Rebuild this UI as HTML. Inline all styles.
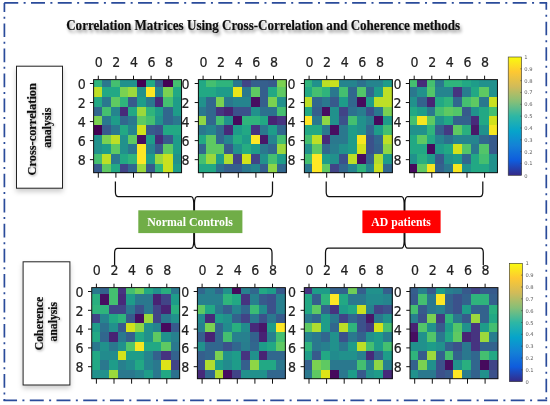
<!DOCTYPE html>
<html><head><meta charset="utf-8"><title>Correlation Matrices</title>
<style>
html,body{margin:0;padding:0;background:#fff}
body{width:550px;height:405px;overflow:hidden}
svg{display:block}
.title{font-family:"Liberation Serif",serif;font-weight:bold;font-size:13.4px;fill:#111;stroke:#111;stroke-width:0.15px}
.lb{font-family:"Liberation Serif",serif;font-weight:bold;font-size:12px;fill:#111;stroke:#111;stroke-width:0.15px}
.bx{font-family:"Liberation Serif",serif;font-weight:bold;font-size:11.8px;fill:#fff}
.tl{font-family:"DejaVu Sans Condensed","DejaVu Sans","Liberation Sans",sans-serif;font-stretch:condensed;font-size:14px;fill:#222;stroke:#222;stroke-width:0.2px}
.cb{font-family:"DejaVu Sans","Liberation Sans",sans-serif;font-size:5.2px;fill:#606060}
</style></head><body>
<svg width="550" height="405" viewBox="0 0 550 405">
<defs>
<linearGradient id="parula" x1="0" y1="1" x2="0" y2="0">
<stop offset="0.000" stop-color="#352a87"/>
<stop offset="0.125" stop-color="#0f5cdd"/>
<stop offset="0.250" stop-color="#1481d6"/>
<stop offset="0.375" stop-color="#06a4ca"/>
<stop offset="0.500" stop-color="#2eb7a4"/>
<stop offset="0.625" stop-color="#87bf77"/>
<stop offset="0.750" stop-color="#d1bb59"/>
<stop offset="0.875" stop-color="#fec832"/>
<stop offset="1.000" stop-color="#f9fb0e"/>
</linearGradient>
<filter id="ts" x="-10%" y="-50%" width="120%" height="250%"><feDropShadow dx="1.6" dy="2.5" stdDeviation="1.6" flood-color="#000" flood-opacity="0.42"/></filter>
<filter id="bs" x="-30%" y="-10%" width="160%" height="130%"><feDropShadow dx="0" dy="3" stdDeviation="2.6" flood-color="#000" flood-opacity="0.2"/></filter>
<filter id="ls" x="-50%" y="-50%" width="200%" height="200%"><feDropShadow dx="1" dy="1.2" stdDeviation="0.9" flood-color="#000" flood-opacity="0.3"/></filter>
</defs>
<rect width="550" height="405" fill="#fff"/>
<g fill="none" stroke="#2a4b9a" stroke-width="1.7">
<path d="M3.55 2.9H547.15" stroke-dasharray="14 5.38 2 5.38" stroke-dashoffset="-0.69"/>
<path d="M546.3 2.9V401.1" stroke-dasharray="13.6 4.95 2 4.95" stroke-dashoffset="6.7"/>
<path d="M3.55 400.3H547.15" stroke-dasharray="14 5.36 2 5.36" stroke-dashoffset="0.5"/>
<path d="M4.4 2.9V401.1" stroke-dasharray="13.6 4.72 2 4.72" stroke-dashoffset="4.44"/>
</g>
<text transform="translate(66.2 30) scale(1 1.06)" class="title" filter="url(#ts)" textLength="394" lengthAdjust="spacingAndGlyphs">Correlation Matrices Using Cross-Correlation and Coherence methods</text>

<rect x="16.5" y="66.2" width="46" height="122" fill="#fff" stroke="#222" stroke-width="1" filter="url(#bs)"/>
<g filter="url(#ls)"><text class="lb" transform="translate(36.4 129.3) rotate(-90) scale(1 1.08)" text-anchor="middle" textLength="92.4" lengthAdjust="spacingAndGlyphs">Cross-correlation</text>
<text class="lb" transform="translate(50.5 127.6) rotate(-90) scale(1 1.08)" text-anchor="middle" textLength="40.1" lengthAdjust="spacingAndGlyphs">analysis</text></g>
<rect x="23.1" y="261.8" width="46.8" height="123.2" fill="#fff" stroke="#222" stroke-width="1" filter="url(#bs)"/>
<g filter="url(#ls)"><text class="lb" transform="translate(43.1 323.5) rotate(-90) scale(1 1.08)" text-anchor="middle" textLength="53.7" lengthAdjust="spacingAndGlyphs">Coherence</text>
<text class="lb" transform="translate(57.1 321.7) rotate(-90) scale(1 1.08)" text-anchor="middle" textLength="39.4" lengthAdjust="spacingAndGlyphs">analysis</text></g>
<path d="M115.4 181.4V191.9Q115.4 196.5 118.4 196.5H190.95Q193.55 196.5 193.75 203.0V211M272.5 181.4V191.9Q272.5 196.5 269.5 196.5H197.25Q194.64999999999998 196.5 194.45 203.0V211M114.6 265V252.9Q114.6 248.3 117.6 248.3H190.95Q193.55 248.3 193.75 241.8V233M272.0 265V252.9Q272.0 248.3 269.0 248.3H197.25Q194.64999999999998 248.3 194.45 241.8V233M326.2 181.5V191.9Q326.2 196.5 329.2 196.5H401.34999999999997Q403.95 196.5 404.15 203.0V211M482.8 181.5V191.9Q482.8 196.5 479.8 196.5H407.65000000000003Q405.05 196.5 404.85 203.0V211M325.5 265V252.79999999999998Q325.5 248.2 328.5 248.2H401.34999999999997Q403.95 248.2 404.15 241.7V233M483.3 265V252.79999999999998Q483.3 248.2 480.3 248.2H407.65000000000003Q405.05 248.2 404.85 241.7V233" fill="none" stroke="#111" stroke-width="1.25" stroke-linecap="butt"/>
<rect x="138.3" y="210.3" width="104.1" height="22.8" fill="#70ad47"/>
<text class="bx" x="190" y="226.2" text-anchor="middle" textLength="85.6" lengthAdjust="spacingAndGlyphs">Normal Controls</text>
<rect x="362.4" y="210.4" width="78.2" height="22.7" fill="#ff0000"/>
<text class="bx" x="401.1" y="226.4" text-anchor="middle" textLength="59.6" lengthAdjust="spacingAndGlyphs">AD patients</text>
<g shape-rendering="crispEdges">
<rect x="93.60" y="79.60" width="8.25" height="7.50" fill="#2fb47c"/>
<rect x="101.55" y="79.60" width="9.50" height="7.50" fill="#2a788e"/>
<rect x="110.75" y="79.60" width="9.10" height="7.50" fill="#44bf70"/>
<rect x="119.55" y="79.60" width="8.85" height="7.50" fill="#21918c"/>
<rect x="128.10" y="79.60" width="9.20" height="7.50" fill="#21918c"/>
<rect x="137.00" y="79.60" width="9.25" height="7.50" fill="#440154"/>
<rect x="145.95" y="79.60" width="9.25" height="7.50" fill="#22a884"/>
<rect x="154.90" y="79.60" width="8.70" height="7.50" fill="#375a8c"/>
<rect x="163.30" y="79.60" width="9.60" height="7.50" fill="#440154"/>
<rect x="172.60" y="79.60" width="9.25" height="7.50" fill="#44bf70"/>
<rect x="93.60" y="86.80" width="8.25" height="10.70" fill="#bddf26"/>
<rect x="101.55" y="86.80" width="9.50" height="10.70" fill="#22a884"/>
<rect x="110.75" y="86.80" width="9.10" height="10.70" fill="#22a884"/>
<rect x="119.55" y="86.80" width="8.85" height="10.70" fill="#7ad151"/>
<rect x="128.10" y="86.80" width="9.20" height="10.70" fill="#9bd93c"/>
<rect x="137.00" y="86.80" width="9.25" height="10.70" fill="#21918c"/>
<rect x="145.95" y="86.80" width="9.25" height="10.70" fill="#fde725"/>
<rect x="154.90" y="86.80" width="8.70" height="10.70" fill="#25848e"/>
<rect x="163.30" y="86.80" width="9.60" height="10.70" fill="#7ad151"/>
<rect x="172.60" y="86.80" width="9.25" height="10.70" fill="#22a884"/>
<rect x="93.60" y="97.20" width="8.25" height="9.60" fill="#22a884"/>
<rect x="101.55" y="97.20" width="9.50" height="9.60" fill="#2a788e"/>
<rect x="110.75" y="97.20" width="9.10" height="9.60" fill="#5ec962"/>
<rect x="119.55" y="97.20" width="8.85" height="9.60" fill="#2fb47c"/>
<rect x="128.10" y="97.20" width="9.20" height="9.60" fill="#375a8c"/>
<rect x="137.00" y="97.20" width="9.25" height="9.60" fill="#1e9c89"/>
<rect x="145.95" y="97.20" width="9.25" height="9.60" fill="#2a788e"/>
<rect x="154.90" y="97.20" width="8.70" height="9.60" fill="#472a7a"/>
<rect x="163.30" y="97.20" width="9.60" height="9.60" fill="#44bf70"/>
<rect x="172.60" y="97.20" width="9.25" height="9.60" fill="#1e9c89"/>
<rect x="93.60" y="106.50" width="8.25" height="9.40" fill="#31678e"/>
<rect x="101.55" y="106.50" width="9.50" height="9.40" fill="#44bf70"/>
<rect x="110.75" y="106.50" width="9.10" height="9.40" fill="#25848e"/>
<rect x="119.55" y="106.50" width="8.85" height="9.40" fill="#472a7a"/>
<rect x="128.10" y="106.50" width="9.20" height="9.40" fill="#22a884"/>
<rect x="137.00" y="106.50" width="9.25" height="9.40" fill="#9bd93c"/>
<rect x="145.95" y="106.50" width="9.25" height="9.40" fill="#2fb47c"/>
<rect x="154.90" y="106.50" width="8.70" height="9.40" fill="#1e9c89"/>
<rect x="163.30" y="106.50" width="9.60" height="9.40" fill="#31678e"/>
<rect x="172.60" y="106.50" width="9.25" height="9.40" fill="#1e9c89"/>
<rect x="93.60" y="115.60" width="8.25" height="9.70" fill="#7ad151"/>
<rect x="101.55" y="115.60" width="9.50" height="9.70" fill="#2a788e"/>
<rect x="110.75" y="115.60" width="9.10" height="9.70" fill="#1e9c89"/>
<rect x="119.55" y="115.60" width="8.85" height="9.70" fill="#31678e"/>
<rect x="128.10" y="115.60" width="9.20" height="9.70" fill="#2a788e"/>
<rect x="137.00" y="115.60" width="9.25" height="9.70" fill="#5ec962"/>
<rect x="145.95" y="115.60" width="9.25" height="9.70" fill="#44bf70"/>
<rect x="154.90" y="115.60" width="8.70" height="9.70" fill="#21918c"/>
<rect x="163.30" y="115.60" width="9.60" height="9.70" fill="#31678e"/>
<rect x="172.60" y="115.60" width="9.25" height="9.70" fill="#2a788e"/>
<rect x="93.60" y="125.00" width="8.25" height="10.20" fill="#440154"/>
<rect x="101.55" y="125.00" width="9.50" height="10.20" fill="#375a8c"/>
<rect x="110.75" y="125.00" width="9.10" height="10.20" fill="#2a788e"/>
<rect x="119.55" y="125.00" width="8.85" height="10.20" fill="#22a884"/>
<rect x="128.10" y="125.00" width="9.20" height="10.20" fill="#25848e"/>
<rect x="137.00" y="125.00" width="9.25" height="10.20" fill="#d2e21b"/>
<rect x="145.95" y="125.00" width="9.25" height="10.20" fill="#375a8c"/>
<rect x="154.90" y="125.00" width="8.70" height="10.20" fill="#3b518b"/>
<rect x="163.30" y="125.00" width="9.60" height="10.20" fill="#22a884"/>
<rect x="172.60" y="125.00" width="9.25" height="10.20" fill="#22a884"/>
<rect x="93.60" y="134.90" width="8.25" height="9.50" fill="#21918c"/>
<rect x="101.55" y="134.90" width="9.50" height="9.50" fill="#7ad151"/>
<rect x="110.75" y="134.90" width="9.10" height="9.50" fill="#bddf26"/>
<rect x="119.55" y="134.90" width="8.85" height="9.50" fill="#21918c"/>
<rect x="128.10" y="134.90" width="9.20" height="9.50" fill="#5ec962"/>
<rect x="137.00" y="134.90" width="9.25" height="9.50" fill="#470e61"/>
<rect x="145.95" y="134.90" width="9.25" height="9.50" fill="#1e9c89"/>
<rect x="154.90" y="134.90" width="8.70" height="9.50" fill="#472a7a"/>
<rect x="163.30" y="134.90" width="9.60" height="9.50" fill="#375a8c"/>
<rect x="172.60" y="134.90" width="9.25" height="9.50" fill="#1e9c89"/>
<rect x="93.60" y="144.10" width="8.25" height="10.00" fill="#21918c"/>
<rect x="101.55" y="144.10" width="9.50" height="10.00" fill="#1e9c89"/>
<rect x="110.75" y="144.10" width="9.10" height="10.00" fill="#5ec962"/>
<rect x="119.55" y="144.10" width="8.85" height="10.00" fill="#21918c"/>
<rect x="128.10" y="144.10" width="9.20" height="10.00" fill="#2a788e"/>
<rect x="137.00" y="144.10" width="9.25" height="10.00" fill="#fde725"/>
<rect x="145.95" y="144.10" width="9.25" height="10.00" fill="#25848e"/>
<rect x="154.90" y="144.10" width="8.70" height="10.00" fill="#375a8c"/>
<rect x="163.30" y="144.10" width="9.60" height="10.00" fill="#5ec962"/>
<rect x="172.60" y="144.10" width="9.25" height="10.00" fill="#1e9c89"/>
<rect x="93.60" y="153.80" width="8.25" height="10.30" fill="#44bf70"/>
<rect x="101.55" y="153.80" width="9.50" height="10.30" fill="#bddf26"/>
<rect x="110.75" y="153.80" width="9.10" height="10.30" fill="#2a788e"/>
<rect x="119.55" y="153.80" width="8.85" height="10.30" fill="#22a884"/>
<rect x="128.10" y="153.80" width="9.20" height="10.30" fill="#2fb47c"/>
<rect x="137.00" y="153.80" width="9.25" height="10.30" fill="#fde725"/>
<rect x="145.95" y="153.80" width="9.25" height="10.30" fill="#1e9c89"/>
<rect x="154.90" y="153.80" width="8.70" height="10.30" fill="#9bd93c"/>
<rect x="163.30" y="153.80" width="9.60" height="10.30" fill="#cae11f"/>
<rect x="172.60" y="153.80" width="9.25" height="10.30" fill="#21918c"/>
<rect x="93.60" y="163.80" width="8.25" height="9.20" fill="#375a8c"/>
<rect x="101.55" y="163.80" width="9.50" height="9.20" fill="#5ec962"/>
<rect x="110.75" y="163.80" width="9.10" height="9.20" fill="#22a884"/>
<rect x="119.55" y="163.80" width="8.85" height="9.20" fill="#414487"/>
<rect x="128.10" y="163.80" width="9.20" height="9.20" fill="#31678e"/>
<rect x="137.00" y="163.80" width="9.25" height="9.20" fill="#9bd93c"/>
<rect x="145.95" y="163.80" width="9.25" height="9.20" fill="#375a8c"/>
<rect x="154.90" y="163.80" width="8.70" height="9.20" fill="#2fb47c"/>
<rect x="163.30" y="163.80" width="9.60" height="9.20" fill="#cae11f"/>
<rect x="172.60" y="163.80" width="9.25" height="9.20" fill="#1e9c89"/>
</g>
<rect x="93.60" y="79.60" width="87.95" height="93.10" fill="none" stroke="#111" stroke-width="1"/>
<text class="tl" x="98.70" y="67.30" text-anchor="middle">0</text>
<text class="tl" x="85.80" y="89.00" text-anchor="end">0</text>
<text class="tl" x="116.30" y="67.30" text-anchor="middle">2</text>
<text class="tl" x="85.80" y="108.04" text-anchor="end">2</text>
<text class="tl" x="133.90" y="67.30" text-anchor="middle">4</text>
<text class="tl" x="85.80" y="127.08" text-anchor="end">4</text>
<text class="tl" x="151.50" y="67.30" text-anchor="middle">6</text>
<text class="tl" x="85.80" y="146.12" text-anchor="end">6</text>
<text class="tl" x="169.10" y="67.30" text-anchor="middle">8</text>
<text class="tl" x="85.80" y="165.16" text-anchor="end">8</text>
<path d="M98.30 75.70V79.60M98.30 172.70V177.70M89.90 83.50H93.60M115.90 75.70V79.60M115.90 172.70V177.70M89.90 102.54H93.60M133.50 75.70V79.60M133.50 172.70V177.70M89.90 121.58H93.60M151.10 75.70V79.60M151.10 172.70V177.70M89.90 140.62H93.60M168.70 75.70V79.60M168.70 172.70V177.70M89.90 159.66H93.60" stroke="#111" stroke-width="1" fill="none"/>
<g shape-rendering="crispEdges">
<rect x="198.40" y="79.60" width="8.25" height="7.50" fill="#22a884"/>
<rect x="206.35" y="79.60" width="9.50" height="7.50" fill="#44bf70"/>
<rect x="215.55" y="79.60" width="9.10" height="7.50" fill="#2fb47c"/>
<rect x="224.35" y="79.60" width="8.85" height="7.50" fill="#2fb47c"/>
<rect x="232.90" y="79.60" width="9.20" height="7.50" fill="#2a788e"/>
<rect x="241.80" y="79.60" width="9.25" height="7.50" fill="#414487"/>
<rect x="250.75" y="79.60" width="9.25" height="7.50" fill="#355f8d"/>
<rect x="259.70" y="79.60" width="8.70" height="7.50" fill="#355f8d"/>
<rect x="268.10" y="79.60" width="9.60" height="7.50" fill="#375a8c"/>
<rect x="277.40" y="79.60" width="9.25" height="7.50" fill="#7ad151"/>
<rect x="198.40" y="86.80" width="8.25" height="10.70" fill="#22a884"/>
<rect x="206.35" y="86.80" width="9.50" height="10.70" fill="#22a884"/>
<rect x="215.55" y="86.80" width="9.10" height="10.70" fill="#1e9c89"/>
<rect x="224.35" y="86.80" width="8.85" height="10.70" fill="#1e9c89"/>
<rect x="232.90" y="86.80" width="9.20" height="10.70" fill="#eae51a"/>
<rect x="241.80" y="86.80" width="9.25" height="10.70" fill="#2a788e"/>
<rect x="250.75" y="86.80" width="9.25" height="10.70" fill="#5ec962"/>
<rect x="259.70" y="86.80" width="8.70" height="10.70" fill="#355f8d"/>
<rect x="268.10" y="86.80" width="9.60" height="10.70" fill="#22a884"/>
<rect x="277.40" y="86.80" width="9.25" height="10.70" fill="#5ec962"/>
<rect x="198.40" y="97.20" width="8.25" height="9.60" fill="#21918c"/>
<rect x="206.35" y="97.20" width="9.50" height="9.60" fill="#31678e"/>
<rect x="215.55" y="97.20" width="9.10" height="9.60" fill="#7ad151"/>
<rect x="224.35" y="97.20" width="8.85" height="9.60" fill="#2a788e"/>
<rect x="232.90" y="97.20" width="9.20" height="9.60" fill="#25848e"/>
<rect x="241.80" y="97.20" width="9.25" height="9.60" fill="#25848e"/>
<rect x="250.75" y="97.20" width="9.25" height="9.60" fill="#470e61"/>
<rect x="259.70" y="97.20" width="8.70" height="9.60" fill="#355f8d"/>
<rect x="268.10" y="97.20" width="9.60" height="9.60" fill="#7ad151"/>
<rect x="277.40" y="97.20" width="9.25" height="9.60" fill="#21918c"/>
<rect x="198.40" y="106.50" width="8.25" height="9.40" fill="#2a788e"/>
<rect x="206.35" y="106.50" width="9.50" height="9.40" fill="#31678e"/>
<rect x="215.55" y="106.50" width="9.10" height="9.40" fill="#463480"/>
<rect x="224.35" y="106.50" width="8.85" height="9.40" fill="#482374"/>
<rect x="232.90" y="106.50" width="9.20" height="9.40" fill="#3b518b"/>
<rect x="241.80" y="106.50" width="9.25" height="9.40" fill="#3b518b"/>
<rect x="250.75" y="106.50" width="9.25" height="9.40" fill="#21918c"/>
<rect x="259.70" y="106.50" width="8.70" height="9.40" fill="#2c718e"/>
<rect x="268.10" y="106.50" width="9.60" height="9.40" fill="#2c718e"/>
<rect x="277.40" y="106.50" width="9.25" height="9.40" fill="#44bf70"/>
<rect x="198.40" y="115.60" width="8.25" height="9.70" fill="#8ed645"/>
<rect x="206.35" y="115.60" width="9.50" height="9.70" fill="#31678e"/>
<rect x="215.55" y="115.60" width="9.10" height="9.70" fill="#44bf70"/>
<rect x="224.35" y="115.60" width="8.85" height="9.70" fill="#21918c"/>
<rect x="232.90" y="115.60" width="9.20" height="9.70" fill="#460a5d"/>
<rect x="241.80" y="115.60" width="9.25" height="9.70" fill="#2fb47c"/>
<rect x="250.75" y="115.60" width="9.25" height="9.70" fill="#2fb47c"/>
<rect x="259.70" y="115.60" width="8.70" height="9.70" fill="#22a884"/>
<rect x="268.10" y="115.60" width="9.60" height="9.70" fill="#482374"/>
<rect x="277.40" y="115.60" width="9.25" height="9.70" fill="#463480"/>
<rect x="198.40" y="125.00" width="8.25" height="10.20" fill="#2a788e"/>
<rect x="206.35" y="125.00" width="9.50" height="10.20" fill="#25848e"/>
<rect x="215.55" y="125.00" width="9.10" height="10.20" fill="#31678e"/>
<rect x="224.35" y="125.00" width="8.85" height="10.20" fill="#472a7a"/>
<rect x="232.90" y="125.00" width="9.20" height="10.20" fill="#1e9c89"/>
<rect x="241.80" y="125.00" width="9.25" height="10.20" fill="#22a884"/>
<rect x="250.75" y="125.00" width="9.25" height="10.20" fill="#463480"/>
<rect x="259.70" y="125.00" width="8.70" height="10.20" fill="#2a788e"/>
<rect x="268.10" y="125.00" width="9.60" height="10.20" fill="#1e9c89"/>
<rect x="277.40" y="125.00" width="9.25" height="10.20" fill="#31678e"/>
<rect x="198.40" y="134.90" width="8.25" height="9.50" fill="#22a884"/>
<rect x="206.35" y="134.90" width="9.50" height="9.50" fill="#5ec962"/>
<rect x="215.55" y="134.90" width="9.10" height="9.50" fill="#31678e"/>
<rect x="224.35" y="134.90" width="8.85" height="9.50" fill="#25848e"/>
<rect x="232.90" y="134.90" width="9.20" height="9.50" fill="#26ad81"/>
<rect x="241.80" y="134.90" width="9.25" height="9.50" fill="#1e9c89"/>
<rect x="250.75" y="134.90" width="9.25" height="9.50" fill="#fde725"/>
<rect x="259.70" y="134.90" width="8.70" height="9.50" fill="#481769"/>
<rect x="268.10" y="134.90" width="9.60" height="9.50" fill="#25848e"/>
<rect x="277.40" y="134.90" width="9.25" height="9.50" fill="#44bf70"/>
<rect x="198.40" y="144.10" width="8.25" height="10.00" fill="#31678e"/>
<rect x="206.35" y="144.10" width="9.50" height="10.00" fill="#5ec962"/>
<rect x="215.55" y="144.10" width="9.10" height="10.00" fill="#5ec962"/>
<rect x="224.35" y="144.10" width="8.85" height="10.00" fill="#375a8c"/>
<rect x="232.90" y="144.10" width="9.20" height="10.00" fill="#21918c"/>
<rect x="241.80" y="144.10" width="9.25" height="10.00" fill="#26ad81"/>
<rect x="250.75" y="144.10" width="9.25" height="10.00" fill="#1e9c89"/>
<rect x="259.70" y="144.10" width="8.70" height="10.00" fill="#2a788e"/>
<rect x="268.10" y="144.10" width="9.60" height="10.00" fill="#31678e"/>
<rect x="277.40" y="144.10" width="9.25" height="10.00" fill="#9bd93c"/>
<rect x="198.40" y="153.80" width="8.25" height="10.30" fill="#44bf70"/>
<rect x="206.35" y="153.80" width="9.50" height="10.30" fill="#9bd93c"/>
<rect x="215.55" y="153.80" width="9.10" height="10.30" fill="#1e9c89"/>
<rect x="224.35" y="153.80" width="8.85" height="10.30" fill="#b0dd2f"/>
<rect x="232.90" y="153.80" width="9.20" height="10.30" fill="#414487"/>
<rect x="241.80" y="153.80" width="9.25" height="10.30" fill="#d2e21b"/>
<rect x="250.75" y="153.80" width="9.25" height="10.30" fill="#414487"/>
<rect x="259.70" y="153.80" width="8.70" height="10.30" fill="#21918c"/>
<rect x="268.10" y="153.80" width="9.60" height="10.30" fill="#44bf70"/>
<rect x="277.40" y="153.80" width="9.25" height="10.30" fill="#1e9c89"/>
<rect x="198.40" y="163.80" width="8.25" height="9.20" fill="#22a884"/>
<rect x="206.35" y="163.80" width="9.50" height="9.20" fill="#22a884"/>
<rect x="215.55" y="163.80" width="9.10" height="9.20" fill="#2c718e"/>
<rect x="224.35" y="163.80" width="8.85" height="9.20" fill="#355f8d"/>
<rect x="232.90" y="163.80" width="9.20" height="9.20" fill="#355f8d"/>
<rect x="241.80" y="163.80" width="9.25" height="9.20" fill="#2a788e"/>
<rect x="250.75" y="163.80" width="9.25" height="9.20" fill="#25848e"/>
<rect x="259.70" y="163.80" width="8.70" height="9.20" fill="#355f8d"/>
<rect x="268.10" y="163.80" width="9.60" height="9.20" fill="#8ed645"/>
<rect x="277.40" y="163.80" width="9.25" height="9.20" fill="#31678e"/>
</g>
<rect x="198.40" y="79.60" width="87.95" height="93.10" fill="none" stroke="#111" stroke-width="1"/>
<text class="tl" x="203.50" y="67.30" text-anchor="middle">0</text>
<text class="tl" x="189.60" y="89.00" text-anchor="end">0</text>
<text class="tl" x="221.10" y="67.30" text-anchor="middle">2</text>
<text class="tl" x="189.60" y="108.04" text-anchor="end">2</text>
<text class="tl" x="238.70" y="67.30" text-anchor="middle">4</text>
<text class="tl" x="189.60" y="127.08" text-anchor="end">4</text>
<text class="tl" x="256.30" y="67.30" text-anchor="middle">6</text>
<text class="tl" x="189.60" y="146.12" text-anchor="end">6</text>
<text class="tl" x="273.90" y="67.30" text-anchor="middle">8</text>
<text class="tl" x="189.60" y="165.16" text-anchor="end">8</text>
<path d="M203.10 75.70V79.60M203.10 172.70V177.70M194.70 83.50H198.40M220.70 75.70V79.60M220.70 172.70V177.70M194.70 102.54H198.40M238.30 75.70V79.60M238.30 172.70V177.70M194.70 121.58H198.40M255.90 75.70V79.60M255.90 172.70V177.70M194.70 140.62H198.40M273.50 75.70V79.60M273.50 172.70V177.70M194.70 159.66H198.40" stroke="#111" stroke-width="1" fill="none"/>
<g shape-rendering="crispEdges">
<rect x="304.40" y="79.60" width="8.25" height="7.50" fill="#2fb47c"/>
<rect x="312.35" y="79.60" width="9.50" height="7.50" fill="#21918c"/>
<rect x="321.55" y="79.60" width="9.10" height="7.50" fill="#bddf26"/>
<rect x="330.35" y="79.60" width="8.85" height="7.50" fill="#cae11f"/>
<rect x="338.90" y="79.60" width="9.20" height="7.50" fill="#25848e"/>
<rect x="347.80" y="79.60" width="9.25" height="7.50" fill="#25848e"/>
<rect x="356.75" y="79.60" width="9.25" height="7.50" fill="#2c718e"/>
<rect x="365.70" y="79.60" width="8.70" height="7.50" fill="#25848e"/>
<rect x="374.10" y="79.60" width="9.60" height="7.50" fill="#25848e"/>
<rect x="383.40" y="79.60" width="9.25" height="7.50" fill="#1e9c89"/>
<rect x="304.40" y="86.80" width="8.25" height="10.70" fill="#22a884"/>
<rect x="312.35" y="86.80" width="9.50" height="10.70" fill="#44bf70"/>
<rect x="321.55" y="86.80" width="9.10" height="10.70" fill="#2fb47c"/>
<rect x="330.35" y="86.80" width="8.85" height="10.70" fill="#2a788e"/>
<rect x="338.90" y="86.80" width="9.20" height="10.70" fill="#44bf70"/>
<rect x="347.80" y="86.80" width="9.25" height="10.70" fill="#31678e"/>
<rect x="356.75" y="86.80" width="9.25" height="10.70" fill="#52c569"/>
<rect x="365.70" y="86.80" width="8.70" height="10.70" fill="#31678e"/>
<rect x="374.10" y="86.80" width="9.60" height="10.70" fill="#1e9c89"/>
<rect x="383.40" y="86.80" width="9.25" height="10.70" fill="#bddf26"/>
<rect x="304.40" y="97.20" width="8.25" height="9.60" fill="#bddf26"/>
<rect x="312.35" y="97.20" width="9.50" height="9.60" fill="#31678e"/>
<rect x="321.55" y="97.20" width="9.10" height="9.60" fill="#2a788e"/>
<rect x="330.35" y="97.20" width="8.85" height="9.60" fill="#375a8c"/>
<rect x="338.90" y="97.20" width="9.20" height="9.60" fill="#1e9c89"/>
<rect x="347.80" y="97.20" width="9.25" height="9.60" fill="#31678e"/>
<rect x="356.75" y="97.20" width="9.25" height="9.60" fill="#460a5d"/>
<rect x="365.70" y="97.20" width="8.70" height="9.60" fill="#1e9c89"/>
<rect x="374.10" y="97.20" width="9.60" height="9.60" fill="#bddf26"/>
<rect x="383.40" y="97.20" width="9.25" height="9.60" fill="#bddf26"/>
<rect x="304.40" y="106.50" width="8.25" height="9.40" fill="#22a884"/>
<rect x="312.35" y="106.50" width="9.50" height="9.40" fill="#355f8d"/>
<rect x="321.55" y="106.50" width="9.10" height="9.40" fill="#470e61"/>
<rect x="330.35" y="106.50" width="8.85" height="9.40" fill="#21918c"/>
<rect x="338.90" y="106.50" width="9.20" height="9.40" fill="#414487"/>
<rect x="347.80" y="106.50" width="9.25" height="9.40" fill="#2c718e"/>
<rect x="356.75" y="106.50" width="9.25" height="9.40" fill="#287d8e"/>
<rect x="365.70" y="106.50" width="8.70" height="9.40" fill="#3b518b"/>
<rect x="374.10" y="106.50" width="9.60" height="9.40" fill="#2a788e"/>
<rect x="383.40" y="106.50" width="9.25" height="9.40" fill="#7ad151"/>
<rect x="304.40" y="115.60" width="8.25" height="9.70" fill="#fde725"/>
<rect x="312.35" y="115.60" width="9.50" height="9.70" fill="#2a788e"/>
<rect x="321.55" y="115.60" width="9.10" height="9.70" fill="#8ed645"/>
<rect x="330.35" y="115.60" width="8.85" height="9.70" fill="#21918c"/>
<rect x="338.90" y="115.60" width="9.20" height="9.70" fill="#3b518b"/>
<rect x="347.80" y="115.60" width="9.25" height="9.70" fill="#44bf70"/>
<rect x="356.75" y="115.60" width="9.25" height="9.70" fill="#21918c"/>
<rect x="365.70" y="115.60" width="8.70" height="9.70" fill="#287d8e"/>
<rect x="374.10" y="115.60" width="9.60" height="9.70" fill="#460a5d"/>
<rect x="383.40" y="115.60" width="9.25" height="9.70" fill="#1e9c89"/>
<rect x="304.40" y="125.00" width="8.25" height="10.20" fill="#22a884"/>
<rect x="312.35" y="125.00" width="9.50" height="10.20" fill="#22a884"/>
<rect x="321.55" y="125.00" width="9.10" height="10.20" fill="#2a788e"/>
<rect x="330.35" y="125.00" width="8.85" height="10.20" fill="#470e61"/>
<rect x="338.90" y="125.00" width="9.20" height="10.20" fill="#2a788e"/>
<rect x="347.80" y="125.00" width="9.25" height="10.20" fill="#1e9c89"/>
<rect x="356.75" y="125.00" width="9.25" height="10.20" fill="#21918c"/>
<rect x="365.70" y="125.00" width="8.70" height="10.20" fill="#31678e"/>
<rect x="374.10" y="125.00" width="9.60" height="10.20" fill="#1e9c89"/>
<rect x="383.40" y="125.00" width="9.25" height="10.20" fill="#44bf70"/>
<rect x="304.40" y="134.90" width="8.25" height="9.50" fill="#44bf70"/>
<rect x="312.35" y="134.90" width="9.50" height="9.50" fill="#bddf26"/>
<rect x="321.55" y="134.90" width="9.10" height="9.50" fill="#472a7a"/>
<rect x="330.35" y="134.90" width="8.85" height="9.50" fill="#2a788e"/>
<rect x="338.90" y="134.90" width="9.20" height="9.50" fill="#2a788e"/>
<rect x="347.80" y="134.90" width="9.25" height="9.50" fill="#1e9c89"/>
<rect x="356.75" y="134.90" width="9.25" height="9.50" fill="#f6e620"/>
<rect x="365.70" y="134.90" width="8.70" height="9.50" fill="#3b518b"/>
<rect x="374.10" y="134.90" width="9.60" height="9.50" fill="#31678e"/>
<rect x="383.40" y="134.90" width="9.25" height="9.50" fill="#bddf26"/>
<rect x="304.40" y="144.10" width="8.25" height="10.00" fill="#21918c"/>
<rect x="312.35" y="144.10" width="9.50" height="10.00" fill="#5ec962"/>
<rect x="321.55" y="144.10" width="9.10" height="10.00" fill="#31678e"/>
<rect x="330.35" y="144.10" width="8.85" height="10.00" fill="#287d8e"/>
<rect x="338.90" y="144.10" width="9.20" height="10.00" fill="#21918c"/>
<rect x="347.80" y="144.10" width="9.25" height="10.00" fill="#1e9c89"/>
<rect x="356.75" y="144.10" width="9.25" height="10.00" fill="#d2e21b"/>
<rect x="365.70" y="144.10" width="8.70" height="10.00" fill="#3b518b"/>
<rect x="374.10" y="144.10" width="9.60" height="10.00" fill="#33628d"/>
<rect x="383.40" y="144.10" width="9.25" height="10.00" fill="#8ed645"/>
<rect x="304.40" y="153.80" width="8.25" height="10.30" fill="#44bf70"/>
<rect x="312.35" y="153.80" width="9.50" height="10.30" fill="#fde725"/>
<rect x="321.55" y="153.80" width="9.10" height="10.30" fill="#1e9c89"/>
<rect x="330.35" y="153.80" width="8.85" height="10.30" fill="#21918c"/>
<rect x="338.90" y="153.80" width="9.20" height="10.30" fill="#3b518b"/>
<rect x="347.80" y="153.80" width="9.25" height="10.30" fill="#bddf26"/>
<rect x="356.75" y="153.80" width="9.25" height="10.30" fill="#470e61"/>
<rect x="365.70" y="153.80" width="8.70" height="10.30" fill="#33628d"/>
<rect x="374.10" y="153.80" width="9.60" height="10.30" fill="#b0dd2f"/>
<rect x="383.40" y="153.80" width="9.25" height="10.30" fill="#1e9c89"/>
<rect x="304.40" y="163.80" width="8.25" height="9.20" fill="#2a788e"/>
<rect x="312.35" y="163.80" width="9.50" height="9.20" fill="#fde725"/>
<rect x="321.55" y="163.80" width="9.10" height="9.20" fill="#5ec962"/>
<rect x="330.35" y="163.80" width="8.85" height="9.20" fill="#414487"/>
<rect x="338.90" y="163.80" width="9.20" height="9.20" fill="#31678e"/>
<rect x="347.80" y="163.80" width="9.25" height="9.20" fill="#25848e"/>
<rect x="356.75" y="163.80" width="9.25" height="9.20" fill="#2fb47c"/>
<rect x="365.70" y="163.80" width="8.70" height="9.20" fill="#25848e"/>
<rect x="374.10" y="163.80" width="9.60" height="9.20" fill="#cae11f"/>
<rect x="383.40" y="163.80" width="9.25" height="9.20" fill="#31678e"/>
</g>
<rect x="304.40" y="79.60" width="87.95" height="93.10" fill="none" stroke="#111" stroke-width="1"/>
<text class="tl" x="309.50" y="67.30" text-anchor="middle">0</text>
<text class="tl" x="295.60" y="89.00" text-anchor="end">0</text>
<text class="tl" x="327.10" y="67.30" text-anchor="middle">2</text>
<text class="tl" x="295.60" y="108.04" text-anchor="end">2</text>
<text class="tl" x="344.70" y="67.30" text-anchor="middle">4</text>
<text class="tl" x="295.60" y="127.08" text-anchor="end">4</text>
<text class="tl" x="362.30" y="67.30" text-anchor="middle">6</text>
<text class="tl" x="295.60" y="146.12" text-anchor="end">6</text>
<text class="tl" x="379.90" y="67.30" text-anchor="middle">8</text>
<text class="tl" x="295.60" y="165.16" text-anchor="end">8</text>
<path d="M309.10 75.70V79.60M309.10 172.70V177.70M300.70 83.50H304.40M326.70 75.70V79.60M326.70 172.70V177.70M300.70 102.54H304.40M344.30 75.70V79.60M344.30 172.70V177.70M300.70 121.58H304.40M361.90 75.70V79.60M361.90 172.70V177.70M300.70 140.62H304.40M379.50 75.70V79.60M379.50 172.70V177.70M300.70 159.66H304.40" stroke="#111" stroke-width="1" fill="none"/>
<g shape-rendering="crispEdges">
<rect x="409.50" y="79.60" width="8.25" height="7.50" fill="#44bf70"/>
<rect x="417.45" y="79.60" width="9.50" height="7.50" fill="#472a7a"/>
<rect x="426.65" y="79.60" width="9.10" height="7.50" fill="#44bf70"/>
<rect x="435.45" y="79.60" width="8.85" height="7.50" fill="#2a788e"/>
<rect x="444.00" y="79.60" width="9.20" height="7.50" fill="#2fb47c"/>
<rect x="452.90" y="79.60" width="9.25" height="7.50" fill="#2fb47c"/>
<rect x="461.85" y="79.60" width="9.25" height="7.50" fill="#22a884"/>
<rect x="470.80" y="79.60" width="8.70" height="7.50" fill="#1e9c89"/>
<rect x="479.20" y="79.60" width="9.60" height="7.50" fill="#21918c"/>
<rect x="488.50" y="79.60" width="9.25" height="7.50" fill="#21918c"/>
<rect x="409.50" y="86.80" width="8.25" height="10.70" fill="#2a788e"/>
<rect x="417.45" y="86.80" width="9.50" height="10.70" fill="#21918c"/>
<rect x="426.65" y="86.80" width="9.10" height="10.70" fill="#52c569"/>
<rect x="435.45" y="86.80" width="8.85" height="10.70" fill="#25848e"/>
<rect x="444.00" y="86.80" width="9.20" height="10.70" fill="#25848e"/>
<rect x="452.90" y="86.80" width="9.25" height="10.70" fill="#463480"/>
<rect x="461.85" y="86.80" width="9.25" height="10.70" fill="#287d8e"/>
<rect x="470.80" y="86.80" width="8.70" height="10.70" fill="#22a884"/>
<rect x="479.20" y="86.80" width="9.60" height="10.70" fill="#5ec962"/>
<rect x="488.50" y="86.80" width="9.25" height="10.70" fill="#21918c"/>
<rect x="409.50" y="97.20" width="8.25" height="9.60" fill="#21918c"/>
<rect x="417.45" y="97.20" width="9.50" height="9.60" fill="#33628d"/>
<rect x="426.65" y="97.20" width="9.10" height="9.60" fill="#482374"/>
<rect x="435.45" y="97.20" width="8.85" height="9.60" fill="#22a884"/>
<rect x="444.00" y="97.20" width="9.20" height="9.60" fill="#2fb47c"/>
<rect x="452.90" y="97.20" width="9.25" height="9.60" fill="#31678e"/>
<rect x="461.85" y="97.20" width="9.25" height="9.60" fill="#44bf70"/>
<rect x="470.80" y="97.20" width="8.70" height="9.60" fill="#5ec962"/>
<rect x="479.20" y="97.20" width="9.60" height="9.60" fill="#2a788e"/>
<rect x="488.50" y="97.20" width="9.25" height="9.60" fill="#cae11f"/>
<rect x="409.50" y="106.50" width="8.25" height="9.40" fill="#22a884"/>
<rect x="417.45" y="106.50" width="9.50" height="9.40" fill="#1e9c89"/>
<rect x="426.65" y="106.50" width="9.10" height="9.40" fill="#2a788e"/>
<rect x="435.45" y="106.50" width="8.85" height="9.40" fill="#44bf70"/>
<rect x="444.00" y="106.50" width="9.20" height="9.40" fill="#5ec962"/>
<rect x="452.90" y="106.50" width="9.25" height="9.40" fill="#52c569"/>
<rect x="461.85" y="106.50" width="9.25" height="9.40" fill="#375a8c"/>
<rect x="470.80" y="106.50" width="8.70" height="9.40" fill="#21918c"/>
<rect x="479.20" y="106.50" width="9.60" height="9.40" fill="#22a884"/>
<rect x="488.50" y="106.50" width="9.25" height="9.40" fill="#44bf70"/>
<rect x="409.50" y="115.60" width="8.25" height="9.70" fill="#44bf70"/>
<rect x="417.45" y="115.60" width="9.50" height="9.70" fill="#f6e620"/>
<rect x="426.65" y="115.60" width="9.10" height="9.70" fill="#5ec962"/>
<rect x="435.45" y="115.60" width="8.85" height="9.70" fill="#21918c"/>
<rect x="444.00" y="115.60" width="9.20" height="9.70" fill="#22a884"/>
<rect x="452.90" y="115.60" width="9.25" height="9.70" fill="#33628d"/>
<rect x="461.85" y="115.60" width="9.25" height="9.70" fill="#33628d"/>
<rect x="470.80" y="115.60" width="8.70" height="9.70" fill="#472a7a"/>
<rect x="479.20" y="115.60" width="9.60" height="9.70" fill="#22a884"/>
<rect x="488.50" y="115.60" width="9.25" height="9.70" fill="#d2e21b"/>
<rect x="409.50" y="125.00" width="8.25" height="10.20" fill="#21918c"/>
<rect x="417.45" y="125.00" width="9.50" height="10.20" fill="#21918c"/>
<rect x="426.65" y="125.00" width="9.10" height="10.20" fill="#2fb47c"/>
<rect x="435.45" y="125.00" width="8.85" height="10.20" fill="#355f8d"/>
<rect x="444.00" y="125.00" width="9.20" height="10.20" fill="#443a83"/>
<rect x="452.90" y="125.00" width="9.25" height="10.20" fill="#5ec962"/>
<rect x="461.85" y="125.00" width="9.25" height="10.20" fill="#29af7f"/>
<rect x="470.80" y="125.00" width="8.70" height="10.20" fill="#481769"/>
<rect x="479.20" y="125.00" width="9.60" height="10.20" fill="#21918c"/>
<rect x="488.50" y="125.00" width="9.25" height="10.20" fill="#f6e620"/>
<rect x="409.50" y="134.90" width="8.25" height="9.50" fill="#22a884"/>
<rect x="417.45" y="134.90" width="9.50" height="9.50" fill="#5ec962"/>
<rect x="426.65" y="134.90" width="9.10" height="9.50" fill="#22a884"/>
<rect x="435.45" y="134.90" width="8.85" height="9.50" fill="#25848e"/>
<rect x="444.00" y="134.90" width="9.20" height="9.50" fill="#2c718e"/>
<rect x="452.90" y="134.90" width="9.25" height="9.50" fill="#25848e"/>
<rect x="461.85" y="134.90" width="9.25" height="9.50" fill="#25848e"/>
<rect x="470.80" y="134.90" width="8.70" height="9.50" fill="#25848e"/>
<rect x="479.20" y="134.90" width="9.60" height="9.50" fill="#31678e"/>
<rect x="488.50" y="134.90" width="9.25" height="9.50" fill="#375a8c"/>
<rect x="409.50" y="144.10" width="8.25" height="10.00" fill="#22a884"/>
<rect x="417.45" y="144.10" width="9.50" height="10.00" fill="#22a884"/>
<rect x="426.65" y="144.10" width="9.10" height="10.00" fill="#460a5d"/>
<rect x="435.45" y="144.10" width="8.85" height="10.00" fill="#1e9c89"/>
<rect x="444.00" y="144.10" width="9.20" height="10.00" fill="#22a884"/>
<rect x="452.90" y="144.10" width="9.25" height="10.00" fill="#d2e21b"/>
<rect x="461.85" y="144.10" width="9.25" height="10.00" fill="#52c569"/>
<rect x="470.80" y="144.10" width="8.70" height="10.00" fill="#2a788e"/>
<rect x="479.20" y="144.10" width="9.60" height="10.00" fill="#52c569"/>
<rect x="488.50" y="144.10" width="9.25" height="10.00" fill="#375a8c"/>
<rect x="409.50" y="153.80" width="8.25" height="10.30" fill="#21918c"/>
<rect x="417.45" y="153.80" width="9.50" height="10.30" fill="#29af7f"/>
<rect x="426.65" y="153.80" width="9.10" height="10.30" fill="#1e9c89"/>
<rect x="435.45" y="153.80" width="8.85" height="10.30" fill="#375a8c"/>
<rect x="444.00" y="153.80" width="9.20" height="10.30" fill="#21918c"/>
<rect x="452.90" y="153.80" width="9.25" height="10.30" fill="#1e9c89"/>
<rect x="461.85" y="153.80" width="9.25" height="10.30" fill="#31678e"/>
<rect x="470.80" y="153.80" width="8.70" height="10.30" fill="#22a884"/>
<rect x="479.20" y="153.80" width="9.60" height="10.30" fill="#44bf70"/>
<rect x="488.50" y="153.80" width="9.25" height="10.30" fill="#21918c"/>
<rect x="409.50" y="163.80" width="8.25" height="9.20" fill="#460a5d"/>
<rect x="417.45" y="163.80" width="9.50" height="9.20" fill="#5ec962"/>
<rect x="426.65" y="163.80" width="9.10" height="9.20" fill="#f6e620"/>
<rect x="435.45" y="163.80" width="8.85" height="9.20" fill="#33628d"/>
<rect x="444.00" y="163.80" width="9.20" height="9.20" fill="#2a788e"/>
<rect x="452.90" y="163.80" width="9.25" height="9.20" fill="#f6e620"/>
<rect x="461.85" y="163.80" width="9.25" height="9.20" fill="#21918c"/>
<rect x="470.80" y="163.80" width="8.70" height="9.20" fill="#22a884"/>
<rect x="479.20" y="163.80" width="9.60" height="9.20" fill="#22a884"/>
<rect x="488.50" y="163.80" width="9.25" height="9.20" fill="#21918c"/>
</g>
<rect x="409.50" y="79.60" width="87.95" height="93.10" fill="none" stroke="#111" stroke-width="1"/>
<text class="tl" x="414.60" y="67.30" text-anchor="middle">0</text>
<text class="tl" x="401.50" y="89.00" text-anchor="end">0</text>
<text class="tl" x="432.20" y="67.30" text-anchor="middle">2</text>
<text class="tl" x="401.50" y="108.04" text-anchor="end">2</text>
<text class="tl" x="449.80" y="67.30" text-anchor="middle">4</text>
<text class="tl" x="401.50" y="127.08" text-anchor="end">4</text>
<text class="tl" x="467.40" y="67.30" text-anchor="middle">6</text>
<text class="tl" x="401.50" y="146.12" text-anchor="end">6</text>
<text class="tl" x="485.00" y="67.30" text-anchor="middle">8</text>
<text class="tl" x="401.50" y="165.16" text-anchor="end">8</text>
<path d="M414.20 75.70V79.60M414.20 172.70V177.70M405.80 83.50H409.50M431.80 75.70V79.60M431.80 172.70V177.70M405.80 102.54H409.50M449.40 75.70V79.60M449.40 172.70V177.70M405.80 121.58H409.50M467.00 75.70V79.60M467.00 172.70V177.70M405.80 140.62H409.50M484.60 75.70V79.60M484.60 172.70V177.70M405.80 159.66H409.50" stroke="#111" stroke-width="1" fill="none"/>
<g shape-rendering="crispEdges">
<rect x="91.70" y="287.60" width="8.25" height="7.10" fill="#2a788e"/>
<rect x="99.65" y="287.60" width="9.50" height="7.10" fill="#33628d"/>
<rect x="108.85" y="287.60" width="9.10" height="7.10" fill="#44bf70"/>
<rect x="117.65" y="287.60" width="8.85" height="7.10" fill="#463480"/>
<rect x="126.20" y="287.60" width="9.20" height="7.10" fill="#44bf70"/>
<rect x="135.10" y="287.60" width="9.25" height="7.10" fill="#6ece58"/>
<rect x="144.05" y="287.60" width="9.25" height="7.10" fill="#22a884"/>
<rect x="153.00" y="287.60" width="8.70" height="7.10" fill="#21918c"/>
<rect x="161.40" y="287.60" width="9.60" height="7.10" fill="#29af7f"/>
<rect x="170.70" y="287.60" width="9.25" height="7.10" fill="#2a788e"/>
<rect x="91.70" y="294.40" width="8.25" height="10.80" fill="#29af7f"/>
<rect x="99.65" y="294.40" width="9.50" height="10.80" fill="#470e61"/>
<rect x="108.85" y="294.40" width="9.10" height="10.80" fill="#44bf70"/>
<rect x="117.65" y="294.40" width="8.85" height="10.80" fill="#472a7a"/>
<rect x="126.20" y="294.40" width="9.20" height="10.80" fill="#1e9c89"/>
<rect x="135.10" y="294.40" width="9.25" height="10.80" fill="#2a788e"/>
<rect x="144.05" y="294.40" width="9.25" height="10.80" fill="#2a788e"/>
<rect x="153.00" y="294.40" width="8.70" height="10.80" fill="#482374"/>
<rect x="161.40" y="294.40" width="9.60" height="10.80" fill="#414487"/>
<rect x="170.70" y="294.40" width="9.25" height="10.80" fill="#1e9c89"/>
<rect x="91.70" y="304.90" width="8.25" height="9.50" fill="#2fb47c"/>
<rect x="99.65" y="304.90" width="9.50" height="9.50" fill="#2fb47c"/>
<rect x="108.85" y="304.90" width="9.10" height="9.50" fill="#414487"/>
<rect x="117.65" y="304.90" width="8.85" height="9.50" fill="#414487"/>
<rect x="126.20" y="304.90" width="9.20" height="9.50" fill="#2a788e"/>
<rect x="135.10" y="304.90" width="9.25" height="9.50" fill="#3b518b"/>
<rect x="144.05" y="304.90" width="9.25" height="9.50" fill="#2a788e"/>
<rect x="153.00" y="304.90" width="8.70" height="9.50" fill="#414487"/>
<rect x="161.40" y="304.90" width="9.60" height="9.50" fill="#482374"/>
<rect x="170.70" y="304.90" width="9.25" height="9.50" fill="#29af7f"/>
<rect x="91.70" y="314.10" width="8.25" height="9.00" fill="#414487"/>
<rect x="99.65" y="314.10" width="9.50" height="9.00" fill="#25848e"/>
<rect x="108.85" y="314.10" width="9.10" height="9.00" fill="#22a884"/>
<rect x="117.65" y="314.10" width="8.85" height="9.00" fill="#2fb47c"/>
<rect x="126.20" y="314.10" width="9.20" height="9.00" fill="#375a8c"/>
<rect x="135.10" y="314.10" width="9.25" height="9.00" fill="#470e61"/>
<rect x="144.05" y="314.10" width="9.25" height="9.00" fill="#9bd93c"/>
<rect x="153.00" y="314.10" width="8.70" height="9.00" fill="#414487"/>
<rect x="161.40" y="314.10" width="9.60" height="9.00" fill="#2a788e"/>
<rect x="170.70" y="314.10" width="9.25" height="9.00" fill="#21918c"/>
<rect x="91.70" y="322.80" width="8.25" height="9.50" fill="#1e9c89"/>
<rect x="99.65" y="322.80" width="9.50" height="9.50" fill="#2c718e"/>
<rect x="108.85" y="322.80" width="9.10" height="9.50" fill="#21918c"/>
<rect x="117.65" y="322.80" width="8.85" height="9.50" fill="#375a8c"/>
<rect x="126.20" y="322.80" width="9.20" height="9.50" fill="#d2e21b"/>
<rect x="135.10" y="322.80" width="9.25" height="9.50" fill="#8ed645"/>
<rect x="144.05" y="322.80" width="9.25" height="9.50" fill="#21918c"/>
<rect x="153.00" y="322.80" width="8.70" height="9.50" fill="#25848e"/>
<rect x="161.40" y="322.80" width="9.60" height="9.50" fill="#460a5d"/>
<rect x="170.70" y="322.80" width="9.25" height="9.50" fill="#375a8c"/>
<rect x="91.70" y="332.00" width="8.25" height="10.30" fill="#22a884"/>
<rect x="99.65" y="332.00" width="9.50" height="10.30" fill="#31678e"/>
<rect x="108.85" y="332.00" width="9.10" height="10.30" fill="#482374"/>
<rect x="117.65" y="332.00" width="8.85" height="10.30" fill="#2a788e"/>
<rect x="126.20" y="332.00" width="9.20" height="10.30" fill="#355f8d"/>
<rect x="135.10" y="332.00" width="9.25" height="10.30" fill="#22a884"/>
<rect x="144.05" y="332.00" width="9.25" height="10.30" fill="#21918c"/>
<rect x="153.00" y="332.00" width="8.70" height="10.30" fill="#5ec962"/>
<rect x="161.40" y="332.00" width="9.60" height="10.30" fill="#21918c"/>
<rect x="170.70" y="332.00" width="9.25" height="10.30" fill="#27808e"/>
<rect x="91.70" y="342.00" width="8.25" height="9.70" fill="#2a788e"/>
<rect x="99.65" y="342.00" width="9.50" height="9.70" fill="#21918c"/>
<rect x="108.85" y="342.00" width="9.10" height="9.70" fill="#2a788e"/>
<rect x="117.65" y="342.00" width="8.85" height="9.70" fill="#21918c"/>
<rect x="126.20" y="342.00" width="9.20" height="9.70" fill="#52c569"/>
<rect x="135.10" y="342.00" width="9.25" height="9.70" fill="#f6e620"/>
<rect x="144.05" y="342.00" width="9.25" height="9.70" fill="#22a884"/>
<rect x="153.00" y="342.00" width="8.70" height="9.70" fill="#22a884"/>
<rect x="161.40" y="342.00" width="9.60" height="9.70" fill="#5ec962"/>
<rect x="170.70" y="342.00" width="9.25" height="9.70" fill="#2a788e"/>
<rect x="91.70" y="351.40" width="8.25" height="9.00" fill="#22a884"/>
<rect x="99.65" y="351.40" width="9.50" height="9.00" fill="#228b8d"/>
<rect x="108.85" y="351.40" width="9.10" height="9.00" fill="#228b8d"/>
<rect x="117.65" y="351.40" width="8.85" height="9.00" fill="#d2e21b"/>
<rect x="126.20" y="351.40" width="9.20" height="9.00" fill="#1e9c89"/>
<rect x="135.10" y="351.40" width="9.25" height="9.00" fill="#1e9c89"/>
<rect x="144.05" y="351.40" width="9.25" height="9.00" fill="#25848e"/>
<rect x="153.00" y="351.40" width="8.70" height="9.00" fill="#33628d"/>
<rect x="161.40" y="351.40" width="9.60" height="9.00" fill="#463480"/>
<rect x="170.70" y="351.40" width="9.25" height="9.00" fill="#33628d"/>
<rect x="91.70" y="360.10" width="8.25" height="10.30" fill="#22a884"/>
<rect x="99.65" y="360.10" width="9.50" height="10.30" fill="#2a788e"/>
<rect x="108.85" y="360.10" width="9.10" height="10.30" fill="#1e9c89"/>
<rect x="117.65" y="360.10" width="8.85" height="10.30" fill="#27808e"/>
<rect x="126.20" y="360.10" width="9.20" height="10.30" fill="#228b8d"/>
<rect x="135.10" y="360.10" width="9.25" height="10.30" fill="#22a884"/>
<rect x="144.05" y="360.10" width="9.25" height="10.30" fill="#25848e"/>
<rect x="153.00" y="360.10" width="8.70" height="10.30" fill="#2a788e"/>
<rect x="161.40" y="360.10" width="9.60" height="10.30" fill="#dde318"/>
<rect x="170.70" y="360.10" width="9.25" height="10.30" fill="#414487"/>
<rect x="91.70" y="370.10" width="8.25" height="8.90" fill="#21918c"/>
<rect x="99.65" y="370.10" width="9.50" height="8.90" fill="#21918c"/>
<rect x="108.85" y="370.10" width="9.10" height="8.90" fill="#9bd93c"/>
<rect x="117.65" y="370.10" width="8.85" height="8.90" fill="#2a788e"/>
<rect x="126.20" y="370.10" width="9.20" height="8.90" fill="#2a788e"/>
<rect x="135.10" y="370.10" width="9.25" height="8.90" fill="#25848e"/>
<rect x="144.05" y="370.10" width="9.25" height="8.90" fill="#1e9c89"/>
<rect x="153.00" y="370.10" width="8.70" height="8.90" fill="#2a788e"/>
<rect x="161.40" y="370.10" width="9.60" height="8.90" fill="#22a884"/>
<rect x="170.70" y="370.10" width="9.25" height="8.90" fill="#2c718e"/>
</g>
<rect x="91.70" y="287.60" width="87.95" height="91.10" fill="none" stroke="#111" stroke-width="1"/>
<text class="tl" x="96.80" y="274.90" text-anchor="middle">0</text>
<text class="tl" x="83.50" y="297.00" text-anchor="end">0</text>
<text class="tl" x="114.40" y="274.90" text-anchor="middle">2</text>
<text class="tl" x="83.50" y="315.80" text-anchor="end">2</text>
<text class="tl" x="132.00" y="274.90" text-anchor="middle">4</text>
<text class="tl" x="83.50" y="334.60" text-anchor="end">4</text>
<text class="tl" x="149.60" y="274.90" text-anchor="middle">6</text>
<text class="tl" x="83.50" y="353.40" text-anchor="end">6</text>
<text class="tl" x="167.20" y="274.90" text-anchor="middle">8</text>
<text class="tl" x="83.50" y="372.20" text-anchor="end">8</text>
<path d="M96.40 283.70V287.60M96.40 378.70V383.70M88.00 291.50H91.70M114.00 283.70V287.60M114.00 378.70V383.70M88.00 310.30H91.70M131.60 283.70V287.60M131.60 378.70V383.70M88.00 329.10H91.70M149.20 283.70V287.60M149.20 378.70V383.70M88.00 347.90H91.70M166.80 283.70V287.60M166.80 378.70V383.70M88.00 366.70H91.70" stroke="#111" stroke-width="1" fill="none"/>
<g shape-rendering="crispEdges">
<rect x="197.40" y="287.60" width="8.25" height="7.10" fill="#31678e"/>
<rect x="205.35" y="287.60" width="9.50" height="7.10" fill="#27808e"/>
<rect x="214.55" y="287.60" width="9.10" height="7.10" fill="#31678e"/>
<rect x="223.35" y="287.60" width="8.85" height="7.10" fill="#21918c"/>
<rect x="231.90" y="287.60" width="9.20" height="7.10" fill="#460a5d"/>
<rect x="240.80" y="287.60" width="9.25" height="7.10" fill="#27808e"/>
<rect x="249.75" y="287.60" width="9.25" height="7.10" fill="#31678e"/>
<rect x="258.70" y="287.60" width="8.70" height="7.10" fill="#22a884"/>
<rect x="267.10" y="287.60" width="9.60" height="7.10" fill="#1e9c89"/>
<rect x="276.40" y="287.60" width="9.25" height="7.10" fill="#375a8c"/>
<rect x="197.40" y="294.40" width="8.25" height="10.80" fill="#27808e"/>
<rect x="205.35" y="294.40" width="9.50" height="10.80" fill="#27808e"/>
<rect x="214.55" y="294.40" width="9.10" height="10.80" fill="#27808e"/>
<rect x="223.35" y="294.40" width="8.85" height="10.80" fill="#2fb47c"/>
<rect x="231.90" y="294.40" width="9.20" height="10.80" fill="#22a884"/>
<rect x="240.80" y="294.40" width="9.25" height="10.80" fill="#463480"/>
<rect x="249.75" y="294.40" width="9.25" height="10.80" fill="#27808e"/>
<rect x="258.70" y="294.40" width="8.70" height="10.80" fill="#375a8c"/>
<rect x="267.10" y="294.40" width="9.60" height="10.80" fill="#3b518b"/>
<rect x="276.40" y="294.40" width="9.25" height="10.80" fill="#27808e"/>
<rect x="197.40" y="304.90" width="8.25" height="9.50" fill="#5ec962"/>
<rect x="205.35" y="304.90" width="9.50" height="9.50" fill="#22a884"/>
<rect x="214.55" y="304.90" width="9.10" height="9.50" fill="#2a788e"/>
<rect x="223.35" y="304.90" width="8.85" height="9.50" fill="#355f8d"/>
<rect x="231.90" y="304.90" width="9.20" height="9.50" fill="#25848e"/>
<rect x="240.80" y="304.90" width="9.25" height="9.50" fill="#31678e"/>
<rect x="249.75" y="304.90" width="9.25" height="9.50" fill="#3bbb75"/>
<rect x="258.70" y="304.90" width="8.70" height="9.50" fill="#228b8d"/>
<rect x="267.10" y="304.90" width="9.60" height="9.50" fill="#3b518b"/>
<rect x="276.40" y="304.90" width="9.25" height="9.50" fill="#27808e"/>
<rect x="197.40" y="314.10" width="8.25" height="9.00" fill="#228b8d"/>
<rect x="205.35" y="314.10" width="9.50" height="9.00" fill="#472a7a"/>
<rect x="214.55" y="314.10" width="9.10" height="9.00" fill="#1e9c89"/>
<rect x="223.35" y="314.10" width="8.85" height="9.00" fill="#21918c"/>
<rect x="231.90" y="314.10" width="9.20" height="9.00" fill="#33628d"/>
<rect x="240.80" y="314.10" width="9.25" height="9.00" fill="#414487"/>
<rect x="249.75" y="314.10" width="9.25" height="9.00" fill="#2a788e"/>
<rect x="258.70" y="314.10" width="8.70" height="9.00" fill="#3b518b"/>
<rect x="267.10" y="314.10" width="9.60" height="9.00" fill="#2a788e"/>
<rect x="276.40" y="314.10" width="9.25" height="9.00" fill="#375a8c"/>
<rect x="197.40" y="322.80" width="8.25" height="9.50" fill="#27808e"/>
<rect x="205.35" y="322.80" width="9.50" height="9.50" fill="#7ad151"/>
<rect x="214.55" y="322.80" width="9.10" height="9.50" fill="#31678e"/>
<rect x="223.35" y="322.80" width="8.85" height="9.50" fill="#228b8d"/>
<rect x="231.90" y="322.80" width="9.20" height="9.50" fill="#29af7f"/>
<rect x="240.80" y="322.80" width="9.25" height="9.50" fill="#228b8d"/>
<rect x="249.75" y="322.80" width="9.25" height="9.50" fill="#472a7a"/>
<rect x="258.70" y="322.80" width="8.70" height="9.50" fill="#481769"/>
<rect x="267.10" y="322.80" width="9.60" height="9.50" fill="#1e9c89"/>
<rect x="276.40" y="322.80" width="9.25" height="9.50" fill="#fde725"/>
<rect x="197.40" y="332.00" width="8.25" height="10.30" fill="#355f8d"/>
<rect x="205.35" y="332.00" width="9.50" height="10.30" fill="#482374"/>
<rect x="214.55" y="332.00" width="9.10" height="10.30" fill="#31678e"/>
<rect x="223.35" y="332.00" width="8.85" height="10.30" fill="#44bf70"/>
<rect x="231.90" y="332.00" width="9.20" height="10.30" fill="#27808e"/>
<rect x="240.80" y="332.00" width="9.25" height="10.30" fill="#27808e"/>
<rect x="249.75" y="332.00" width="9.25" height="10.30" fill="#33628d"/>
<rect x="258.70" y="332.00" width="8.70" height="10.30" fill="#482374"/>
<rect x="267.10" y="332.00" width="9.60" height="10.30" fill="#27808e"/>
<rect x="276.40" y="332.00" width="9.25" height="10.30" fill="#44bf70"/>
<rect x="197.40" y="342.00" width="8.25" height="9.70" fill="#21918c"/>
<rect x="205.35" y="342.00" width="9.50" height="9.70" fill="#31678e"/>
<rect x="214.55" y="342.00" width="9.10" height="9.70" fill="#31678e"/>
<rect x="223.35" y="342.00" width="8.85" height="9.70" fill="#3b518b"/>
<rect x="231.90" y="342.00" width="9.20" height="9.70" fill="#31678e"/>
<rect x="240.80" y="342.00" width="9.25" height="9.70" fill="#287d8e"/>
<rect x="249.75" y="342.00" width="9.25" height="9.70" fill="#31678e"/>
<rect x="258.70" y="342.00" width="8.70" height="9.70" fill="#1e9c89"/>
<rect x="267.10" y="342.00" width="9.60" height="9.70" fill="#22a884"/>
<rect x="276.40" y="342.00" width="9.25" height="9.70" fill="#5ec962"/>
<rect x="197.40" y="351.40" width="8.25" height="9.00" fill="#355f8d"/>
<rect x="205.35" y="351.40" width="9.50" height="9.00" fill="#31678e"/>
<rect x="214.55" y="351.40" width="9.10" height="9.00" fill="#7ad151"/>
<rect x="223.35" y="351.40" width="8.85" height="9.00" fill="#21918c"/>
<rect x="231.90" y="351.40" width="9.20" height="9.00" fill="#1e9c89"/>
<rect x="240.80" y="351.40" width="9.25" height="9.00" fill="#463480"/>
<rect x="249.75" y="351.40" width="9.25" height="9.00" fill="#21918c"/>
<rect x="258.70" y="351.40" width="8.70" height="9.00" fill="#482374"/>
<rect x="267.10" y="351.40" width="9.60" height="9.00" fill="#31678e"/>
<rect x="276.40" y="351.40" width="9.25" height="9.00" fill="#31678e"/>
<rect x="197.40" y="360.10" width="8.25" height="10.30" fill="#3b518b"/>
<rect x="205.35" y="360.10" width="9.50" height="10.30" fill="#b0dd2f"/>
<rect x="214.55" y="360.10" width="9.10" height="10.30" fill="#1e9c89"/>
<rect x="223.35" y="360.10" width="8.85" height="10.30" fill="#228b8d"/>
<rect x="231.90" y="360.10" width="9.20" height="10.30" fill="#1e9c89"/>
<rect x="240.80" y="360.10" width="9.25" height="10.30" fill="#355f8d"/>
<rect x="249.75" y="360.10" width="9.25" height="10.30" fill="#8ed645"/>
<rect x="258.70" y="360.10" width="8.70" height="10.30" fill="#22a884"/>
<rect x="267.10" y="360.10" width="9.60" height="10.30" fill="#22a884"/>
<rect x="276.40" y="360.10" width="9.25" height="10.30" fill="#2a788e"/>
<rect x="197.40" y="370.10" width="8.25" height="8.90" fill="#472a7a"/>
<rect x="205.35" y="370.10" width="9.50" height="8.90" fill="#31678e"/>
<rect x="214.55" y="370.10" width="9.10" height="8.90" fill="#b0dd2f"/>
<rect x="223.35" y="370.10" width="8.85" height="8.90" fill="#470e61"/>
<rect x="231.90" y="370.10" width="9.20" height="8.90" fill="#414487"/>
<rect x="240.80" y="370.10" width="9.25" height="8.90" fill="#21918c"/>
<rect x="249.75" y="370.10" width="9.25" height="8.90" fill="#21918c"/>
<rect x="258.70" y="370.10" width="8.70" height="8.90" fill="#21918c"/>
<rect x="267.10" y="370.10" width="9.60" height="8.90" fill="#31678e"/>
<rect x="276.40" y="370.10" width="9.25" height="8.90" fill="#31678e"/>
</g>
<rect x="197.40" y="287.60" width="87.95" height="91.10" fill="none" stroke="#111" stroke-width="1"/>
<text class="tl" x="202.50" y="274.90" text-anchor="middle">0</text>
<text class="tl" x="189.20" y="297.00" text-anchor="end">0</text>
<text class="tl" x="220.10" y="274.90" text-anchor="middle">2</text>
<text class="tl" x="189.20" y="315.80" text-anchor="end">2</text>
<text class="tl" x="237.70" y="274.90" text-anchor="middle">4</text>
<text class="tl" x="189.20" y="334.60" text-anchor="end">4</text>
<text class="tl" x="255.30" y="274.90" text-anchor="middle">6</text>
<text class="tl" x="189.20" y="353.40" text-anchor="end">6</text>
<text class="tl" x="272.90" y="274.90" text-anchor="middle">8</text>
<text class="tl" x="189.20" y="372.20" text-anchor="end">8</text>
<path d="M202.10 283.70V287.60M202.10 378.70V383.70M193.70 291.50H197.40M219.70 283.70V287.60M219.70 378.70V383.70M193.70 310.30H197.40M237.30 283.70V287.60M237.30 378.70V383.70M193.70 329.10H197.40M254.90 283.70V287.60M254.90 378.70V383.70M193.70 347.90H197.40M272.50 283.70V287.60M272.50 378.70V383.70M193.70 366.70H197.40" stroke="#111" stroke-width="1" fill="none"/>
<g shape-rendering="crispEdges">
<rect x="304.30" y="287.60" width="8.25" height="7.10" fill="#463480"/>
<rect x="312.25" y="287.60" width="9.50" height="7.10" fill="#1e9c89"/>
<rect x="321.45" y="287.60" width="9.10" height="7.10" fill="#1e9c89"/>
<rect x="330.25" y="287.60" width="8.85" height="7.10" fill="#33628d"/>
<rect x="338.80" y="287.60" width="9.20" height="7.10" fill="#33628d"/>
<rect x="347.70" y="287.60" width="9.25" height="7.10" fill="#6ece58"/>
<rect x="356.65" y="287.60" width="9.25" height="7.10" fill="#355f8d"/>
<rect x="365.60" y="287.60" width="8.70" height="7.10" fill="#21918c"/>
<rect x="374.00" y="287.60" width="9.60" height="7.10" fill="#21918c"/>
<rect x="383.30" y="287.60" width="9.25" height="7.10" fill="#355f8d"/>
<rect x="304.30" y="294.40" width="8.25" height="10.80" fill="#22a884"/>
<rect x="312.25" y="294.40" width="9.50" height="10.80" fill="#355f8d"/>
<rect x="321.45" y="294.40" width="9.10" height="10.80" fill="#2fb47c"/>
<rect x="330.25" y="294.40" width="8.85" height="10.80" fill="#fde725"/>
<rect x="338.80" y="294.40" width="9.20" height="10.80" fill="#22a884"/>
<rect x="347.70" y="294.40" width="9.25" height="10.80" fill="#2a788e"/>
<rect x="356.65" y="294.40" width="9.25" height="10.80" fill="#2a788e"/>
<rect x="365.60" y="294.40" width="8.70" height="10.80" fill="#228b8d"/>
<rect x="374.00" y="294.40" width="9.60" height="10.80" fill="#228b8d"/>
<rect x="383.30" y="294.40" width="9.25" height="10.80" fill="#25848e"/>
<rect x="304.30" y="304.90" width="8.25" height="9.50" fill="#22a884"/>
<rect x="312.25" y="304.90" width="9.50" height="9.50" fill="#5ec962"/>
<rect x="321.45" y="304.90" width="9.10" height="9.50" fill="#33628d"/>
<rect x="330.25" y="304.90" width="8.85" height="9.50" fill="#463480"/>
<rect x="338.80" y="304.90" width="9.20" height="9.50" fill="#1e9c89"/>
<rect x="347.70" y="304.90" width="9.25" height="9.50" fill="#22a884"/>
<rect x="356.65" y="304.90" width="9.25" height="9.50" fill="#cae11f"/>
<rect x="365.60" y="304.90" width="8.70" height="9.50" fill="#27808e"/>
<rect x="374.00" y="304.90" width="9.60" height="9.50" fill="#414487"/>
<rect x="383.30" y="304.90" width="9.25" height="9.50" fill="#3b518b"/>
<rect x="304.30" y="314.10" width="8.25" height="9.00" fill="#2a788e"/>
<rect x="312.25" y="314.10" width="9.50" height="9.00" fill="#31678e"/>
<rect x="321.45" y="314.10" width="9.10" height="9.00" fill="#1e9c89"/>
<rect x="330.25" y="314.10" width="8.85" height="9.00" fill="#2a788e"/>
<rect x="338.80" y="314.10" width="9.20" height="9.00" fill="#414487"/>
<rect x="347.70" y="314.10" width="9.25" height="9.00" fill="#31678e"/>
<rect x="356.65" y="314.10" width="9.25" height="9.00" fill="#3b518b"/>
<rect x="365.60" y="314.10" width="8.70" height="9.00" fill="#481769"/>
<rect x="374.00" y="314.10" width="9.60" height="9.00" fill="#2a788e"/>
<rect x="383.30" y="314.10" width="9.25" height="9.00" fill="#21918c"/>
<rect x="304.30" y="322.80" width="8.25" height="9.50" fill="#5ec962"/>
<rect x="312.25" y="322.80" width="9.50" height="9.50" fill="#b0dd2f"/>
<rect x="321.45" y="322.80" width="9.10" height="9.50" fill="#1e9c89"/>
<rect x="330.25" y="322.80" width="8.85" height="9.50" fill="#31678e"/>
<rect x="338.80" y="322.80" width="9.20" height="9.50" fill="#bddf26"/>
<rect x="347.70" y="322.80" width="9.25" height="9.50" fill="#2fb47c"/>
<rect x="356.65" y="322.80" width="9.25" height="9.50" fill="#3b518b"/>
<rect x="365.60" y="322.80" width="8.70" height="9.50" fill="#443a83"/>
<rect x="374.00" y="322.80" width="9.60" height="9.50" fill="#d2e21b"/>
<rect x="383.30" y="322.80" width="9.25" height="9.50" fill="#44bf70"/>
<rect x="304.30" y="332.00" width="8.25" height="10.30" fill="#25848e"/>
<rect x="312.25" y="332.00" width="9.50" height="10.30" fill="#2a788e"/>
<rect x="321.45" y="332.00" width="9.10" height="10.30" fill="#31678e"/>
<rect x="330.25" y="332.00" width="8.85" height="10.30" fill="#21918c"/>
<rect x="338.80" y="332.00" width="9.20" height="10.30" fill="#3b518b"/>
<rect x="347.70" y="332.00" width="9.25" height="10.30" fill="#2a788e"/>
<rect x="356.65" y="332.00" width="9.25" height="10.30" fill="#33628d"/>
<rect x="365.60" y="332.00" width="8.70" height="10.30" fill="#21918c"/>
<rect x="374.00" y="332.00" width="9.60" height="10.30" fill="#1e9c89"/>
<rect x="383.30" y="332.00" width="9.25" height="10.30" fill="#287d8e"/>
<rect x="304.30" y="342.00" width="8.25" height="9.70" fill="#2fb47c"/>
<rect x="312.25" y="342.00" width="9.50" height="9.70" fill="#2a788e"/>
<rect x="321.45" y="342.00" width="9.10" height="9.70" fill="#27808e"/>
<rect x="330.25" y="342.00" width="8.85" height="9.70" fill="#21918c"/>
<rect x="338.80" y="342.00" width="9.20" height="9.70" fill="#2a788e"/>
<rect x="347.70" y="342.00" width="9.25" height="9.70" fill="#1e9c89"/>
<rect x="356.65" y="342.00" width="9.25" height="9.70" fill="#bddf26"/>
<rect x="365.60" y="342.00" width="8.70" height="9.70" fill="#44bf70"/>
<rect x="374.00" y="342.00" width="9.60" height="9.70" fill="#1e9c89"/>
<rect x="383.30" y="342.00" width="9.25" height="9.70" fill="#44bf70"/>
<rect x="304.30" y="351.40" width="8.25" height="9.00" fill="#1e9c89"/>
<rect x="312.25" y="351.40" width="9.50" height="9.00" fill="#375a8c"/>
<rect x="321.45" y="351.40" width="9.10" height="9.00" fill="#22a884"/>
<rect x="330.25" y="351.40" width="8.85" height="9.00" fill="#228b8d"/>
<rect x="338.80" y="351.40" width="9.20" height="9.00" fill="#21918c"/>
<rect x="347.70" y="351.40" width="9.25" height="9.00" fill="#21918c"/>
<rect x="356.65" y="351.40" width="9.25" height="9.00" fill="#27808e"/>
<rect x="365.60" y="351.40" width="8.70" height="9.00" fill="#472a7a"/>
<rect x="374.00" y="351.40" width="9.60" height="9.00" fill="#33628d"/>
<rect x="383.30" y="351.40" width="9.25" height="9.00" fill="#1e9c89"/>
<rect x="304.30" y="360.10" width="8.25" height="10.30" fill="#355f8d"/>
<rect x="312.25" y="360.10" width="9.50" height="10.30" fill="#7ad151"/>
<rect x="321.45" y="360.10" width="9.10" height="10.30" fill="#5ec962"/>
<rect x="330.25" y="360.10" width="8.85" height="10.30" fill="#2a788e"/>
<rect x="338.80" y="360.10" width="9.20" height="10.30" fill="#2a788e"/>
<rect x="347.70" y="360.10" width="9.25" height="10.30" fill="#2a788e"/>
<rect x="356.65" y="360.10" width="9.25" height="10.30" fill="#44bf70"/>
<rect x="365.60" y="360.10" width="8.70" height="10.30" fill="#27808e"/>
<rect x="374.00" y="360.10" width="9.60" height="10.30" fill="#8ed645"/>
<rect x="383.30" y="360.10" width="9.25" height="10.30" fill="#27808e"/>
<rect x="304.30" y="370.10" width="8.25" height="8.90" fill="#2a788e"/>
<rect x="312.25" y="370.10" width="9.50" height="8.90" fill="#5ec962"/>
<rect x="321.45" y="370.10" width="9.10" height="8.90" fill="#dde318"/>
<rect x="330.25" y="370.10" width="8.85" height="8.90" fill="#460a5d"/>
<rect x="338.80" y="370.10" width="9.20" height="8.90" fill="#2a788e"/>
<rect x="347.70" y="370.10" width="9.25" height="8.90" fill="#1e9c89"/>
<rect x="356.65" y="370.10" width="9.25" height="8.90" fill="#375a8c"/>
<rect x="365.60" y="370.10" width="8.70" height="8.90" fill="#21918c"/>
<rect x="374.00" y="370.10" width="9.60" height="8.90" fill="#1e9c89"/>
<rect x="383.30" y="370.10" width="9.25" height="8.90" fill="#472a7a"/>
</g>
<rect x="304.30" y="287.60" width="87.95" height="91.10" fill="none" stroke="#111" stroke-width="1"/>
<text class="tl" x="309.40" y="274.90" text-anchor="middle">0</text>
<text class="tl" x="296.10" y="297.00" text-anchor="end">0</text>
<text class="tl" x="327.00" y="274.90" text-anchor="middle">2</text>
<text class="tl" x="296.10" y="315.80" text-anchor="end">2</text>
<text class="tl" x="344.60" y="274.90" text-anchor="middle">4</text>
<text class="tl" x="296.10" y="334.60" text-anchor="end">4</text>
<text class="tl" x="362.20" y="274.90" text-anchor="middle">6</text>
<text class="tl" x="296.10" y="353.40" text-anchor="end">6</text>
<text class="tl" x="379.80" y="274.90" text-anchor="middle">8</text>
<text class="tl" x="296.10" y="372.20" text-anchor="end">8</text>
<path d="M309.00 283.70V287.60M309.00 378.70V383.70M300.60 291.50H304.30M326.60 283.70V287.60M326.60 378.70V383.70M300.60 310.30H304.30M344.20 283.70V287.60M344.20 378.70V383.70M300.60 329.10H304.30M361.80 283.70V287.60M361.80 378.70V383.70M300.60 347.90H304.30M379.40 283.70V287.60M379.40 378.70V383.70M300.60 366.70H304.30" stroke="#111" stroke-width="1" fill="none"/>
<g shape-rendering="crispEdges">
<rect x="410.00" y="287.60" width="8.25" height="7.10" fill="#355f8d"/>
<rect x="417.95" y="287.60" width="9.50" height="7.10" fill="#27808e"/>
<rect x="427.15" y="287.60" width="9.10" height="7.10" fill="#375a8c"/>
<rect x="435.95" y="287.60" width="8.85" height="7.10" fill="#1e9c89"/>
<rect x="444.50" y="287.60" width="9.20" height="7.10" fill="#27808e"/>
<rect x="453.40" y="287.60" width="9.25" height="7.10" fill="#2a788e"/>
<rect x="462.35" y="287.60" width="9.25" height="7.10" fill="#375a8c"/>
<rect x="471.30" y="287.60" width="8.70" height="7.10" fill="#414487"/>
<rect x="479.70" y="287.60" width="9.60" height="7.10" fill="#375a8c"/>
<rect x="489.00" y="287.60" width="9.25" height="7.10" fill="#375a8c"/>
<rect x="410.00" y="294.40" width="8.25" height="10.80" fill="#375a8c"/>
<rect x="417.95" y="294.40" width="9.50" height="10.80" fill="#44bf70"/>
<rect x="427.15" y="294.40" width="9.10" height="10.80" fill="#2a788e"/>
<rect x="435.95" y="294.40" width="8.85" height="10.80" fill="#fde725"/>
<rect x="444.50" y="294.40" width="9.20" height="10.80" fill="#33628d"/>
<rect x="453.40" y="294.40" width="9.25" height="10.80" fill="#3b518b"/>
<rect x="462.35" y="294.40" width="9.25" height="10.80" fill="#33628d"/>
<rect x="471.30" y="294.40" width="8.70" height="10.80" fill="#2fb47c"/>
<rect x="479.70" y="294.40" width="9.60" height="10.80" fill="#2fb47c"/>
<rect x="489.00" y="294.40" width="9.25" height="10.80" fill="#355f8d"/>
<rect x="410.00" y="304.90" width="8.25" height="9.50" fill="#44bf70"/>
<rect x="417.95" y="304.90" width="9.50" height="9.50" fill="#375a8c"/>
<rect x="427.15" y="304.90" width="9.10" height="9.50" fill="#2a788e"/>
<rect x="435.95" y="304.90" width="8.85" height="9.50" fill="#27808e"/>
<rect x="444.50" y="304.90" width="9.20" height="9.50" fill="#33628d"/>
<rect x="453.40" y="304.90" width="9.25" height="9.50" fill="#3b518b"/>
<rect x="462.35" y="304.90" width="9.25" height="9.50" fill="#1e9c89"/>
<rect x="471.30" y="304.90" width="8.70" height="9.50" fill="#33628d"/>
<rect x="479.70" y="304.90" width="9.60" height="9.50" fill="#33628d"/>
<rect x="489.00" y="304.90" width="9.25" height="9.50" fill="#29af7f"/>
<rect x="410.00" y="314.10" width="8.25" height="9.00" fill="#27808e"/>
<rect x="417.95" y="314.10" width="9.50" height="9.00" fill="#3b518b"/>
<rect x="427.15" y="314.10" width="9.10" height="9.00" fill="#7ad151"/>
<rect x="435.95" y="314.10" width="8.85" height="9.00" fill="#443a83"/>
<rect x="444.50" y="314.10" width="9.20" height="9.00" fill="#2fb47c"/>
<rect x="453.40" y="314.10" width="9.25" height="9.00" fill="#2a788e"/>
<rect x="462.35" y="314.10" width="9.25" height="9.00" fill="#375a8c"/>
<rect x="471.30" y="314.10" width="8.70" height="9.00" fill="#9bd93c"/>
<rect x="479.70" y="314.10" width="9.60" height="9.00" fill="#33628d"/>
<rect x="489.00" y="314.10" width="9.25" height="9.00" fill="#22a884"/>
<rect x="410.00" y="322.80" width="8.25" height="9.50" fill="#482374"/>
<rect x="417.95" y="322.80" width="9.50" height="9.50" fill="#52c569"/>
<rect x="427.15" y="322.80" width="9.10" height="9.50" fill="#21918c"/>
<rect x="435.95" y="322.80" width="8.85" height="9.50" fill="#375a8c"/>
<rect x="444.50" y="322.80" width="9.20" height="9.50" fill="#1e9c89"/>
<rect x="453.40" y="322.80" width="9.25" height="9.50" fill="#52c569"/>
<rect x="462.35" y="322.80" width="9.25" height="9.50" fill="#21918c"/>
<rect x="471.30" y="322.80" width="8.70" height="9.50" fill="#463480"/>
<rect x="479.70" y="322.80" width="9.60" height="9.50" fill="#1e9c89"/>
<rect x="489.00" y="322.80" width="9.25" height="9.50" fill="#44bf70"/>
<rect x="410.00" y="332.00" width="8.25" height="10.30" fill="#470e61"/>
<rect x="417.95" y="332.00" width="9.50" height="10.30" fill="#21918c"/>
<rect x="427.15" y="332.00" width="9.10" height="10.30" fill="#52c569"/>
<rect x="435.95" y="332.00" width="8.85" height="10.30" fill="#2a788e"/>
<rect x="444.50" y="332.00" width="9.20" height="10.30" fill="#22a884"/>
<rect x="453.40" y="332.00" width="9.25" height="10.30" fill="#5ec962"/>
<rect x="462.35" y="332.00" width="9.25" height="10.30" fill="#482374"/>
<rect x="471.30" y="332.00" width="8.70" height="10.30" fill="#463480"/>
<rect x="479.70" y="332.00" width="9.60" height="10.30" fill="#9bd93c"/>
<rect x="489.00" y="332.00" width="9.25" height="10.30" fill="#287d8e"/>
<rect x="410.00" y="342.00" width="8.25" height="9.70" fill="#21918c"/>
<rect x="417.95" y="342.00" width="9.50" height="9.70" fill="#21918c"/>
<rect x="427.15" y="342.00" width="9.10" height="9.70" fill="#1e9c89"/>
<rect x="435.95" y="342.00" width="8.85" height="9.70" fill="#21918c"/>
<rect x="444.50" y="342.00" width="9.20" height="9.70" fill="#33628d"/>
<rect x="453.40" y="342.00" width="9.25" height="9.70" fill="#3b518b"/>
<rect x="462.35" y="342.00" width="9.25" height="9.70" fill="#2a788e"/>
<rect x="471.30" y="342.00" width="8.70" height="9.70" fill="#463480"/>
<rect x="479.70" y="342.00" width="9.60" height="9.70" fill="#33628d"/>
<rect x="489.00" y="342.00" width="9.25" height="9.70" fill="#33628d"/>
<rect x="410.00" y="351.40" width="8.25" height="9.00" fill="#2fb47c"/>
<rect x="417.95" y="351.40" width="9.50" height="9.00" fill="#375a8c"/>
<rect x="427.15" y="351.40" width="9.10" height="9.00" fill="#9bd93c"/>
<rect x="435.95" y="351.40" width="8.85" height="9.00" fill="#33628d"/>
<rect x="444.50" y="351.40" width="9.20" height="9.00" fill="#44bf70"/>
<rect x="453.40" y="351.40" width="9.25" height="9.00" fill="#33628d"/>
<rect x="462.35" y="351.40" width="9.25" height="9.00" fill="#2a788e"/>
<rect x="471.30" y="351.40" width="8.70" height="9.00" fill="#31678e"/>
<rect x="479.70" y="351.40" width="9.60" height="9.00" fill="#44bf70"/>
<rect x="489.00" y="351.40" width="9.25" height="9.00" fill="#22a884"/>
<rect x="410.00" y="360.10" width="8.25" height="10.30" fill="#33628d"/>
<rect x="417.95" y="360.10" width="9.50" height="10.30" fill="#7ad151"/>
<rect x="427.15" y="360.10" width="9.10" height="10.30" fill="#21918c"/>
<rect x="435.95" y="360.10" width="8.85" height="10.30" fill="#3b518b"/>
<rect x="444.50" y="360.10" width="9.20" height="10.30" fill="#470e61"/>
<rect x="453.40" y="360.10" width="9.25" height="10.30" fill="#21918c"/>
<rect x="462.35" y="360.10" width="9.25" height="10.30" fill="#29af7f"/>
<rect x="471.30" y="360.10" width="8.70" height="10.30" fill="#31678e"/>
<rect x="479.70" y="360.10" width="9.60" height="10.30" fill="#460a5d"/>
<rect x="489.00" y="360.10" width="9.25" height="10.30" fill="#414487"/>
<rect x="410.00" y="370.10" width="8.25" height="8.90" fill="#21918c"/>
<rect x="417.95" y="370.10" width="9.50" height="8.90" fill="#2a788e"/>
<rect x="427.15" y="370.10" width="9.10" height="8.90" fill="#2a788e"/>
<rect x="435.95" y="370.10" width="8.85" height="8.90" fill="#3b518b"/>
<rect x="444.50" y="370.10" width="9.20" height="8.90" fill="#375a8c"/>
<rect x="453.40" y="370.10" width="9.25" height="8.90" fill="#fde725"/>
<rect x="462.35" y="370.10" width="9.25" height="8.90" fill="#287d8e"/>
<rect x="471.30" y="370.10" width="8.70" height="8.90" fill="#33628d"/>
<rect x="479.70" y="370.10" width="9.60" height="8.90" fill="#21918c"/>
<rect x="489.00" y="370.10" width="9.25" height="8.90" fill="#3b518b"/>
</g>
<rect x="410.00" y="287.60" width="87.95" height="91.10" fill="none" stroke="#111" stroke-width="1"/>
<text class="tl" x="415.10" y="274.90" text-anchor="middle">0</text>
<text class="tl" x="401.80" y="297.00" text-anchor="end">0</text>
<text class="tl" x="432.70" y="274.90" text-anchor="middle">2</text>
<text class="tl" x="401.80" y="315.80" text-anchor="end">2</text>
<text class="tl" x="450.30" y="274.90" text-anchor="middle">4</text>
<text class="tl" x="401.80" y="334.60" text-anchor="end">4</text>
<text class="tl" x="467.90" y="274.90" text-anchor="middle">6</text>
<text class="tl" x="401.80" y="353.40" text-anchor="end">6</text>
<text class="tl" x="485.50" y="274.90" text-anchor="middle">8</text>
<text class="tl" x="401.80" y="372.20" text-anchor="end">8</text>
<path d="M414.70 283.70V287.60M414.70 378.70V383.70M406.30 291.50H410.00M432.30 283.70V287.60M432.30 378.70V383.70M406.30 310.30H410.00M449.90 283.70V287.60M449.90 378.70V383.70M406.30 329.10H410.00M467.50 283.70V287.60M467.50 378.70V383.70M406.30 347.90H410.00M485.10 283.70V287.60M485.10 378.70V383.70M406.30 366.70H410.00" stroke="#111" stroke-width="1" fill="none"/>
<rect x="508.2" y="57.0" width="13.40" height="118.30" fill="url(#parula)" stroke="#333" stroke-width="0.6"/>
<text class="cb" x="524.2" y="177.90">0</text>
<text class="cb" x="524.2" y="165.47">0.1</text>
<text class="cb" x="524.2" y="153.64">0.2</text>
<text class="cb" x="524.2" y="141.81">0.3</text>
<text class="cb" x="524.2" y="129.98">0.4</text>
<text class="cb" x="524.2" y="118.15">0.5</text>
<text class="cb" x="524.2" y="106.32">0.6</text>
<text class="cb" x="524.2" y="94.49">0.7</text>
<text class="cb" x="524.2" y="82.66">0.8</text>
<text class="cb" x="524.2" y="70.83">0.9</text>
<text class="cb" x="524.2" y="59.00">1</text>
<path d="M520.40 163.47H521.60M520.40 151.64H521.60M520.40 139.81H521.60M520.40 127.98H521.60M520.40 116.15H521.60M520.40 104.32H521.60M520.40 92.49H521.60M520.40 80.66H521.60M520.40 68.83H521.60" stroke="#333" stroke-width="0.6"/>
<rect x="509.3" y="263.3" width="13.10" height="118.40" fill="url(#parula)" stroke="#333" stroke-width="0.6"/>
<text class="cb" x="525.4" y="384.30">0</text>
<text class="cb" x="525.4" y="371.86">0.1</text>
<text class="cb" x="525.4" y="360.02">0.2</text>
<text class="cb" x="525.4" y="348.18">0.3</text>
<text class="cb" x="525.4" y="336.34">0.4</text>
<text class="cb" x="525.4" y="324.50">0.5</text>
<text class="cb" x="525.4" y="312.66">0.6</text>
<text class="cb" x="525.4" y="300.82">0.7</text>
<text class="cb" x="525.4" y="288.98">0.8</text>
<text class="cb" x="525.4" y="277.14">0.9</text>
<text class="cb" x="525.4" y="265.30">1</text>
<path d="M521.20 369.86H522.40M521.20 358.02H522.40M521.20 346.18H522.40M521.20 334.34H522.40M521.20 322.50H522.40M521.20 310.66H522.40M521.20 298.82H522.40M521.20 286.98H522.40M521.20 275.14H522.40" stroke="#333" stroke-width="0.6"/>
</svg>
</body></html>
